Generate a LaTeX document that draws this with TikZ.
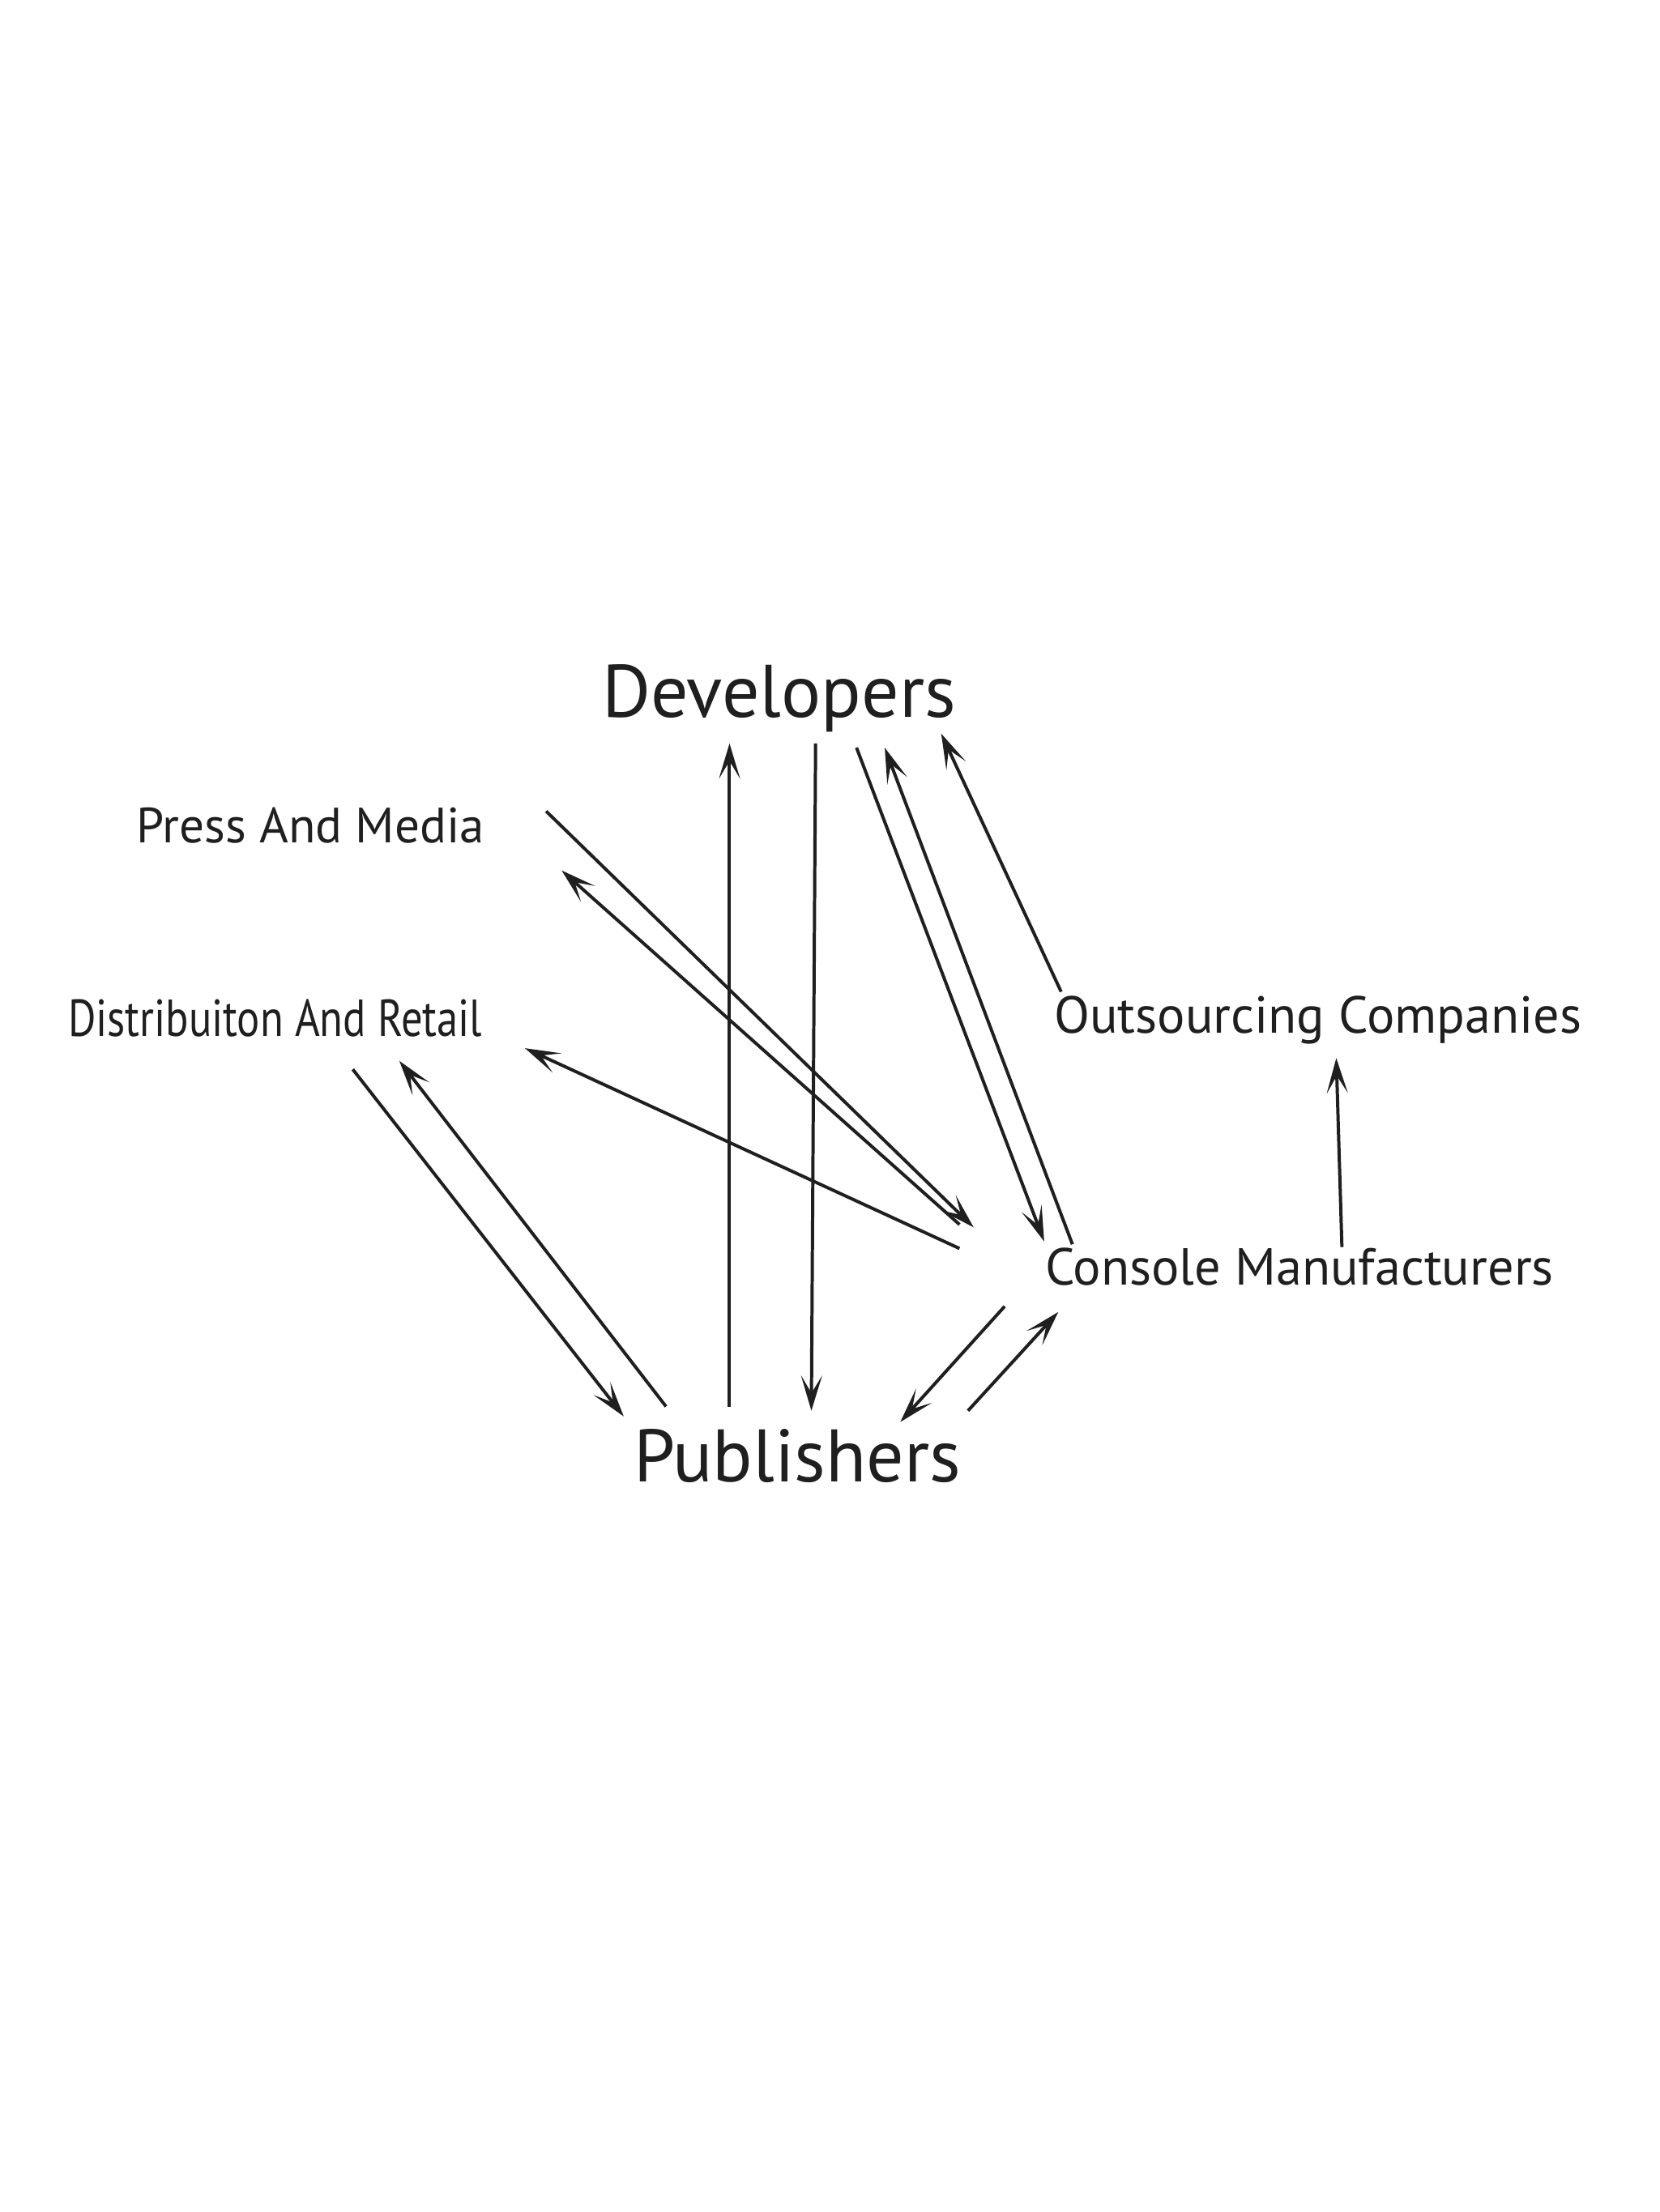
\documentclass[tikz,border=0pt]{standalone}
\usepackage{fontspec}
\setmainfont{PT Sans}
\usetikzlibrary{arrows.meta}
\begin{document}
\begin{tikzpicture}[x=0.02cm,y=-0.02cm,
  conn/.style={line width=1.3pt,-{Stealth[length=5mm,width=3mm,inset=2.5mm]},draw=black!88},
  lbl/.style={text=black!88,inner sep=0pt}]
\useasboundingbox (0,0) rectangle (1176,1568);
\fill[white] (0,0) rectangle (1176,1568);
\node[lbl,font=\fontsize{30}{34}\selectfont] (dev) at (552,495) {Developers};
\node[lbl,font=\fontsize{30}{34}\selectfont] (pub) at (565,1032) {Publishers};
\node[lbl,font=\fontsize{20}{24}\selectfont] (press) at (220,585) {Press And Media};
\node[lbl] (dist) at (195,722) {\scalebox{0.82}[1]{\fontsize{21}{24}\selectfont Distribuiton And Retail}};
\node[lbl,font=\fontsize{21}{24}\selectfont] (out) at (934,723) {Outsourcing Companies};
\node[lbl,font=\fontsize{21}{24}\selectfont] (con) at (921,898) {Console Manufacturers};
\foreach \n/\x/\y in {a1/517/997,a2/517/527,b1/578/527,b2/575/1000,c1/607/530,c2/740/880,
  d1/760/882,d2/627/530,e1/752/703,e2/667/520,f1/951/884,f2/947/750,g1/387/575,g2/690/870,
  h1/680/868,h2/398/617,i1/680/885,i2/372/743,j1/250/758,j2/442/1004,k1/472/997,k2/283/752,
  l1/712/926,l2/638/1008,m1/686/1000,m2/750/930}
  \coordinate (\n) at (\x,\y);
\foreach \p in {a,b,c,d,e,f,g,h,i,j,k,l,m}
  \draw[conn] (\p1) -- (\p2);
\end{tikzpicture}
\end{document}
